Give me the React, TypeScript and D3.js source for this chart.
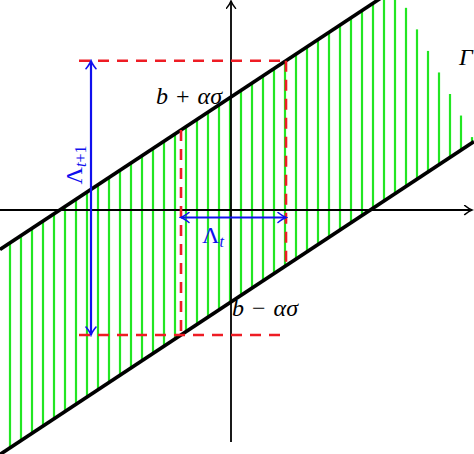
import * as d3 from "d3";
import { useEffect, useRef } from "react";

const W = 474;
const H = 454;

// the two parallel edges: y = slope * x + intercept
const boundarySlope = 0.66;
const boundaryIntercepts = [2.26, -1.84]; // b + ασ, b − ασ
const boundaryLabels = ["b + ασ", "b − ασ"];

// interval Λ_t on the horizontal axis
const lambdaT = [-1.0, 1.1];
// x of the vertical Λ_{t+1} arrow, y of the Λ_t arrow
const lambdaNextX = -2.8;
const lambdaTY = -0.15;
// left end of the red dashed guides
const guideStartX = -3.04;

// Γ edge that cuts the shading on the right
const gammaEdge: [number, number][] = [
  [3.42, 4.2],
  [4.86, 1.38],
];

// hatch spacing
const hatchStart = -4.42;
const hatchStep = 0.22;

const GREEN = "#22e622";
const RED = "#ee1c24";
const BLUE = "#1010ee";
const FONT = "'Liberation Serif', 'DejaVu Serif', serif";

export default function App() {
  const ref = useRef<SVGSVGElement | null>(null);

  useEffect(() => {
    if (!ref.current) return;
    document.body.style.margin = "0";

    const svg = d3.select(ref.current);
    svg.selectAll("*").remove();
    svg.attr("width", W).attr("height", H);

    const x = d3.scaleLinear().domain([-4.62, 4.86]).range([0, W]);
    const y = d3.scaleLinear().domain([-4.88, 4.2]).range([H, 0]);

    const [upperB, lowerB] = boundaryIntercepts;
    const upper = (v: number) => boundarySlope * v + upperB;
    const lower = (v: number) => boundarySlope * v + lowerB;
    const [g0, g1] = gammaEdge;
    const gamma = (v: number) => g0[1] + ((g1[1] - g0[1]) / (g1[0] - g0[0])) * (v - g0[0]);

    const defs = svg.append("defs");
    const marker = (id: string, color: string, size: number) => {
      defs
        .append("marker")
        .attr("id", id)
        .attr("markerUnits", "userSpaceOnUse")
        .attr("viewBox", "-10 -6 12 12")
        .attr("refX", 0)
        .attr("refY", 0)
        .attr("markerWidth", size)
        .attr("markerHeight", size)
        .attr("orient", "auto-start-reverse")
        .append("path")
        .attr("d", "M -8 -5 Q -3 -1 0 0 Q -3 1 -8 5")
        .attr("fill", "none")
        .attr("stroke", color)
        .attr("stroke-width", 1.6)
        .attr("stroke-linecap", "round");
    };
    marker("arrowBlack", "#000", 11);
    marker("arrowBlue", BLUE, 12);

    // hatching
    const hatch = d3
      .range(hatchStart, x.domain()[1], hatchStep)
      .map((v) => {
        const top = Math.min(upper(v), gamma(v), y.domain()[1] + 0.1);
        const bottom = Math.max(lower(v), y.domain()[0] - 0.1);
        return { v, top, bottom };
      })
      .filter((d) => d.top > d.bottom);

    svg
      .append("g")
      .selectAll("line")
      .data(hatch)
      .enter()
      .append("line")
      .attr("x1", (d) => x(d.v))
      .attr("x2", (d) => x(d.v))
      .attr("y1", (d) => y(d.top))
      .attr("y2", (d) => y(d.bottom))
      .attr("stroke", GREEN)
      .attr("stroke-width", 2.2);

    // axes
    const axes = svg.append("g").attr("stroke", "#000").attr("stroke-width", 1.8);
    axes
      .append("line")
      .attr("x1", x(-4.62))
      .attr("x2", x(4.82))
      .attr("y1", y(0))
      .attr("y2", y(0))
      .attr("marker-end", "url(#arrowBlack)");
    axes
      .append("line")
      .attr("x1", x(0))
      .attr("x2", x(0))
      .attr("y1", y(-4.64))
      .attr("y2", y(4.18))
      .attr("marker-end", "url(#arrowBlack)");

    // boundary lines
    const [xmin, xmax] = x.domain();
    svg
      .append("g")
      .selectAll("line")
      .data([upper, lower])
      .enter()
      .append("line")
      .attr("x1", x(xmin))
      .attr("x2", x(xmax))
      .attr("y1", (f) => y(f(xmin)))
      .attr("y2", (f) => y(f(xmax)))
      .attr("stroke", "#000")
      .attr("stroke-width", 3.6);

    // red dashed guides
    const [x1, x2] = lambdaT;
    const guides = [
      [guideStartX, upper(x2), x2, upper(x2)],
      [x2, upper(x2), x2, lower(x2)],
      [x1, upper(x1), x1, lower(x1)],
      [guideStartX, lower(x1), x2, lower(x1)],
    ];
    svg
      .append("g")
      .selectAll("line")
      .data(guides)
      .enter()
      .append("line")
      .attr("x1", (d) => x(d[0]))
      .attr("y1", (d) => y(d[1]))
      .attr("x2", (d) => x(d[2]))
      .attr("y2", (d) => y(d[3]))
      .attr("stroke", RED)
      .attr("stroke-width", 2.6)
      .attr("stroke-dasharray", "11 8");

    // blue arrows
    const arrows = [
      [x1, lambdaTY, x2, lambdaTY],
      [lambdaNextX, lower(x1), lambdaNextX, upper(x2)],
    ];
    svg
      .append("g")
      .selectAll("line")
      .data(arrows)
      .enter()
      .append("line")
      .attr("x1", (d) => x(d[0]))
      .attr("y1", (d) => y(d[1]))
      .attr("x2", (d) => x(d[2]))
      .attr("y2", (d) => y(d[3]))
      .attr("stroke", BLUE)
      .attr("stroke-width", 2.2)
      .attr("marker-start", "url(#arrowBlue)")
      .attr("marker-end", "url(#arrowBlue)");

    // labels
    const txt = svg.append("g").attr("font-family", FONT).attr("font-size", 24);

    const bLabel = (s: string, tx: number, ty: number) => {
      const [b, op, a] = s.split(" ");
      const t = txt.append("text").attr("x", tx).attr("y", ty);
      t.append("tspan").attr("font-style", "italic").text(b);
      t.append("tspan").attr("dx", 8).text(op);
      t.append("tspan").attr("dx", 8).attr("font-style", "italic").text(a);
    };
    bLabel(boundaryLabels[0], x(0) - 75, y(upperB) + 7);
    bLabel(boundaryLabels[1], x(0) + 1, y(lowerB) + 14);

    const lt = txt
      .append("text")
      .attr("x", x(x1) + 21)
      .attr("y", y(lambdaTY) + 25)
      .attr("fill", BLUE);
    lt.append("tspan").text("Λ");
    lt.append("tspan").attr("font-style", "italic").attr("font-size", 16).attr("dy", 4).text("t");

    const ln = txt
      .append("text")
      .attr("transform", `translate(${x(lambdaNextX) - 9},${y(0.9)}) rotate(-90)`)
      .attr("text-anchor", "middle")
      .attr("fill", BLUE);
    ln.append("tspan").text("Λ");
    ln.append("tspan").attr("font-style", "italic").attr("font-size", 16).attr("dy", 4).text("t");
    ln.append("tspan").attr("font-size", 16).text("+1");

    txt
      .append("text")
      .attr("x", 459)
      .attr("y", y(2.9))
      .attr("font-style", "italic")
      .text("Γ");
  }, []);

  return <svg ref={ref}></svg>;
}
